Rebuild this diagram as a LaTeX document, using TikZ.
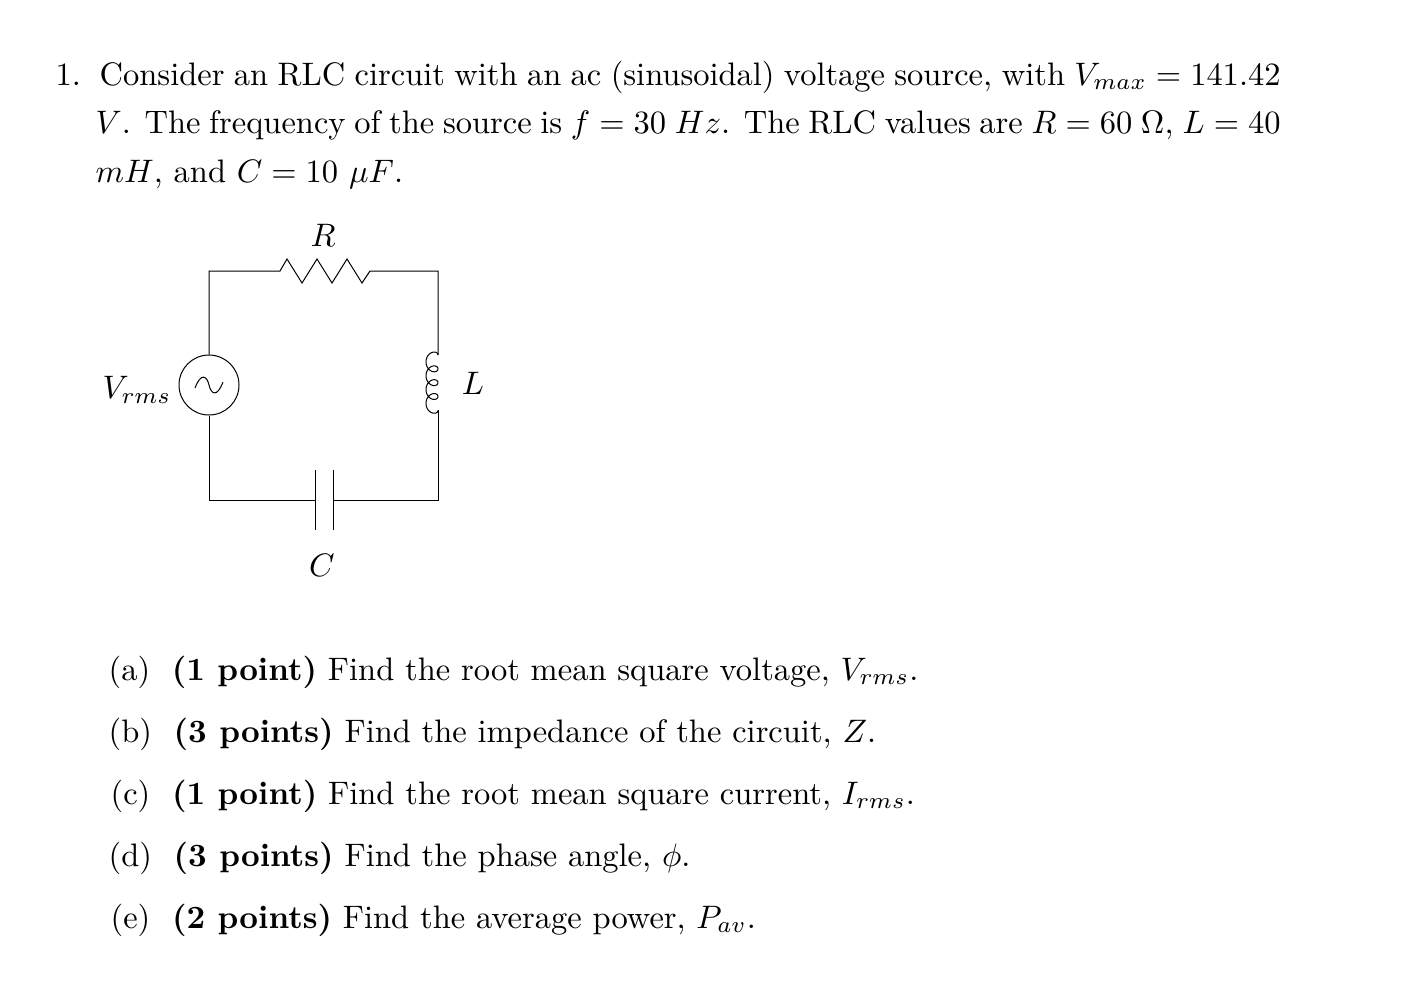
\documentclass[tikz,border=0pt]{standalone}
\begin{document}
\begin{tikzpicture}[x=1pt,y=-1pt,
  txt/.style={anchor=base west,inner sep=0pt,scale=3.25},
  lab/.style={inner sep=0pt,scale=3.25},
  wire/.style={line width=1pt}]
\useasboundingbox (0,0) rectangle (1410,994);
\node[txt] (l1) at (55,85) {\makebox[376.9pt][s]{1.\ \ Consider an RLC circuit with an ac (sinusoidal) voltage source, with $V_{max}=141.42$}};
\node[txt] (l2) at (95,133) {\makebox[364.6pt][s]{$V$. The frequency of the source is $f=30\ Hz$. The RLC values are $R=60\ \Omega$, $L=40$}};
\node[txt] (l3) at (95,182) {$mH$, and $C=10\ \mu F$.};
% circuit
\coordinate (tl) at (209,271); \coordinate (tr) at (438,271);
\coordinate (bl) at (209,500); \coordinate (br) at (438,500);
\node[draw,circle,minimum size=60pt,inner sep=0pt,line width=1pt] (src) at (209,385) {};
\draw[wire] (src.north) -- (tl) -- (280,271) -- (287,259) -- (302,283) -- (317,259) -- (332,283) -- (347,259) -- (362,283) -- (370,271) -- (tr) -- (438,355);
\draw[wire,domain=0:25.13,samples=200,smooth] plot ({438-6*(1-cos(\x r))},{355+2.2*\x-6*sin(\x r)});
\draw[wire] (438,410) -- (br) -- (333,500);
\draw[wire] (333,470) -- (333,530);
\draw[wire] (315,470) -- (315,530);
\draw[wire] (315,500) -- (bl) -- (src.south);
\draw[wire] (195,388) .. controls (201,372) and (207,376) .. (209,385) .. controls (211,394) and (217,398) .. (223,382);
\node[lab] (R) at (323,235) {$R$};
\node[lab] (L) at (473,383) {$L$};
\node[lab] (C) at (322,565) {$C$};
\node[lab] (V) at (137,390) {$V_{rms}$};
% questions
\node[txt] (a) at (108,680) {(a)\ \ \textbf{(1 point)} Find the root mean square voltage, $V_{rms}$.};
\node[txt] (b) at (108,742) {(b)\ \ \textbf{(3 points)} Find the impedance of the circuit, $Z$.};
\node[txt] (c) at (110,804) {(c)\ \ \textbf{(1 point)} Find the root mean square current, $I_{rms}$.};
\node[txt] (d) at (108,866) {(d)\ \ \textbf{(3 points)} Find the phase angle, $\phi$.};
\node[txt] (e) at (110,928) {(e)\ \ \textbf{(2 points)} Find the average power, $P_{av}$.};
\end{tikzpicture}
\end{document}
